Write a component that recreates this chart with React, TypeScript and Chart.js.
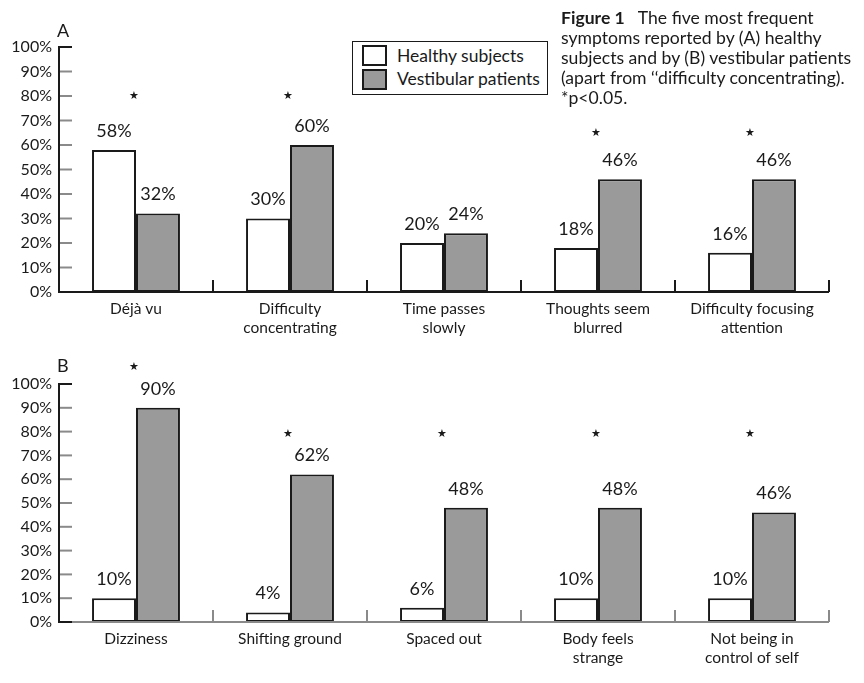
import React, { useEffect, useRef } from "react";
import { Chart, registerables } from "chart.js";
Chart.register(...registerables);

const categoriesA = [["Déjà vu"], ["Difficulty", "concentrating"], ["Time passes", "slowly"], ["Thoughts seem", "blurred"], ["Difficulty focusing", "attention"]];
const healthyA = [58, 30, 20, 18, 16];
const vestibularA = [32, 60, 24, 46, 46];
const starsA: (number | null)[] = [80, 80, null, 65, 65];

const categoriesB = [["Dizziness"], ["Shifting ground"], ["Spaced out"], ["Body feels", "strange"], ["Not being in", "control of self"]];
const healthyB = [10, 4, 6, 10, 10];
const vestibularB = [90, 62, 48, 48, 46];
const starsB: (number | null)[] = [107, 79, 79, 79, 79];

const yTickValues = [0, 10, 20, 30, 40, 50, 60, 70, 80, 90, 100];
const seriesNames = ["Healthy subjects", "Vestibular patients"];

const FONT = "Lato, 'DejaVu Sans', sans-serif";
const GRAY_FILL = "#9a9a9a";
const INK = "#1a1a1a";
const AXIS_GRAY = "#8a8a8a";

function makeChart(
  canvas: HTMLCanvasElement,
  cats: string[][],
  healthy: number[],
  vest: number[],
  stars: (number | null)[],
  topPad: number,
  xAxisH: number,
  xAxisColor: string
) {
  const overlay = {
    id: "overlay",
    afterDatasetsDraw(chart: any) {
      const ctx = chart.ctx;
      const xs = chart.scales.x;
      const ys = chart.scales.y;
      const area = chart.chartArea;
      const y0 = ys.getPixelForValue(0);
      ctx.save();
      // x axis line
      ctx.strokeStyle = xAxisColor;
      ctx.lineWidth = 2;
      ctx.beginPath();
      ctx.moveTo(area.left, y0);
      ctx.lineTo(area.right, y0);
      ctx.stroke();
      // category separators
      const n = cats.length;
      const cw = (area.right - area.left) / n;
      for (let k = 1; k <= n; k++) {
        const x = area.left + k * cw;
        ctx.beginPath();
        ctx.moveTo(x, y0);
        ctx.lineTo(x, y0 - 12);
        ctx.stroke();
      }
      // y ticks inward
      yTickValues.forEach((v) => {
        const y = ys.getPixelForValue(v);
        ctx.strokeStyle = v === 100 || v === 0 ? INK : AXIS_GRAY;
        ctx.beginPath();
        ctx.moveTo(area.left, y);
        ctx.lineTo(area.left + 13, y);
        ctx.stroke();
      });
      // y axis line
      ctx.strokeStyle = INK;
      ctx.beginPath();
      ctx.moveTo(area.left, ys.getPixelForValue(100) - 1);
      ctx.lineTo(area.left, y0 + 1);
      ctx.stroke();
      // value labels
      ctx.fillStyle = INK;
      ctx.font = `18px ${FONT}`;
      ctx.textAlign = "center";
      ctx.textBaseline = "middle";
      chart.data.datasets.forEach((ds: any, i: number) => {
        const meta = chart.getDatasetMeta(i);
        meta.data.forEach((bar: any, j: number) => {
          ctx.fillText(ds.data[j] + "%", bar.x, bar.y - 19);
        });
      });
      // significance stars
      ctx.font = `11px 'DejaVu Sans', sans-serif`;
      stars.forEach((v, j) => {
        if (v == null) return;
        ctx.fillText("★", xs.getPixelForValue(j) - 2, ys.getPixelForValue(v));
      });
      ctx.restore();
    },
  };

  return new Chart(canvas, {
    type: "bar",
    data: {
      labels: cats,
      datasets: [
        {
          label: seriesNames[0],
          data: healthy,
          backgroundColor: "#ffffff",
          borderColor: INK,
          borderWidth: 2,
          borderSkipped: false,
          barPercentage: 1,
          categoryPercentage: 0.571,
        },
        {
          label: seriesNames[1],
          data: vest,
          backgroundColor: GRAY_FILL,
          borderColor: INK,
          borderWidth: 2,
          borderSkipped: false,
          barPercentage: 1,
          categoryPercentage: 0.571,
        },
      ],
    },
    options: {
      responsive: false,
      animation: false,
      devicePixelRatio: 1,
      layout: { padding: { top: topPad, right: 35, left: 0, bottom: 0 } },
      plugins: { legend: { display: false }, tooltip: { enabled: false } },
      scales: {
        x: {
          grid: { display: false, drawTicks: false },
          border: { display: false },
          ticks: {
            color: INK,
            font: { family: FONT, size: 15.5, lineHeight: 1.25 },
            padding: 7,
            maxRotation: 0,
            autoSkip: false,
          },
          afterFit: (s: any) => {
            s.height = xAxisH;
          },
        },
        y: {
          min: 0,
          max: 100,
          grid: { display: false, drawTicks: false },
          border: { display: false },
          ticks: {
            stepSize: 10,
            color: INK,
            font: { family: FONT, size: 16 },
            padding: 7,
            callback: (v: any) => v + "%",
          },
          afterFit: (s: any) => {
            s.width = 59;
          },
        },
      },
    },
    plugins: [overlay],
  } as any);
}

export default function App() {
  const refA = useRef<HTMLCanvasElement>(null);
  const refB = useRef<HTMLCanvasElement>(null);

  useEffect(() => {
    const a = makeChart(refA.current!, categoriesA, healthyA, vestibularA, starsA, 47, 53, INK);
    const b = makeChart(refB.current!, categoriesB, healthyB, vestibularB, starsB, 39, 61, AXIS_GRAY);
    return () => {
      a.destroy();
      b.destroy();
    };
  }, []);

  const panelLabel: React.CSSProperties = {
    position: "absolute",
    fontFamily: FONT,
    fontSize: 18,
    color: INK,
    lineHeight: "20px",
  };

  return (
    <div style={{ position: "fixed", left: 0, top: 0, width: 864, height: 683, background: "#fff", overflow: "hidden" }}>
      <canvas ref={refA} width={864} height={345} style={{ position: "absolute", left: 0, top: 0, width: 864, height: 345 }} />
      <canvas ref={refB} width={864} height={338} style={{ position: "absolute", left: 0, top: 345, width: 864, height: 338 }} />
      <div style={{ ...panelLabel, left: 57, top: 20 }}>A</div>
      <div style={{ ...panelLabel, left: 57, top: 355 }}>B</div>
      <div
        style={{
          position: "absolute",
          left: 352,
          top: 41,
          width: 196,
          height: 54,
          boxSizing: "border-box",
          border: `1.5px solid ${INK}`,
          background: "#fff",
          fontFamily: FONT,
          fontSize: 17.5,
          color: INK,
        }}
      >
        <div style={{ position: "absolute", left: 9, top: 3, width: 25, height: 21, boxSizing: "border-box", border: `2px solid ${INK}`, background: "#fff" }} />
        <div style={{ position: "absolute", left: 9, top: 27, width: 25, height: 21, boxSizing: "border-box", border: `2px solid ${INK}`, background: GRAY_FILL }} />
        <div style={{ position: "absolute", left: 44, top: 3, lineHeight: "22px", whiteSpace: "nowrap" }}>{seriesNames[0]}</div>
        <div style={{ position: "absolute", left: 44, top: 26, lineHeight: "22px", whiteSpace: "nowrap" }}>{seriesNames[1]}</div>
      </div>
      <div
        style={{
          position: "absolute",
          left: 561,
          top: 8,
          width: 303,
          fontFamily: FONT,
          fontSize: 17.6,
          lineHeight: "20px",
          color: INK,
          whiteSpace: "nowrap",
        }}
      >
        <b>Figure 1</b>&nbsp;&nbsp;&nbsp;The five most frequent
        <br />
        symptoms reported by (A) healthy
        <br />
        subjects and by (B) vestibular patients
        <br />
        (apart from ‘‘difficulty concentrating).
        <br />
        *p&lt;0.05.
      </div>
    </div>
  );
}
